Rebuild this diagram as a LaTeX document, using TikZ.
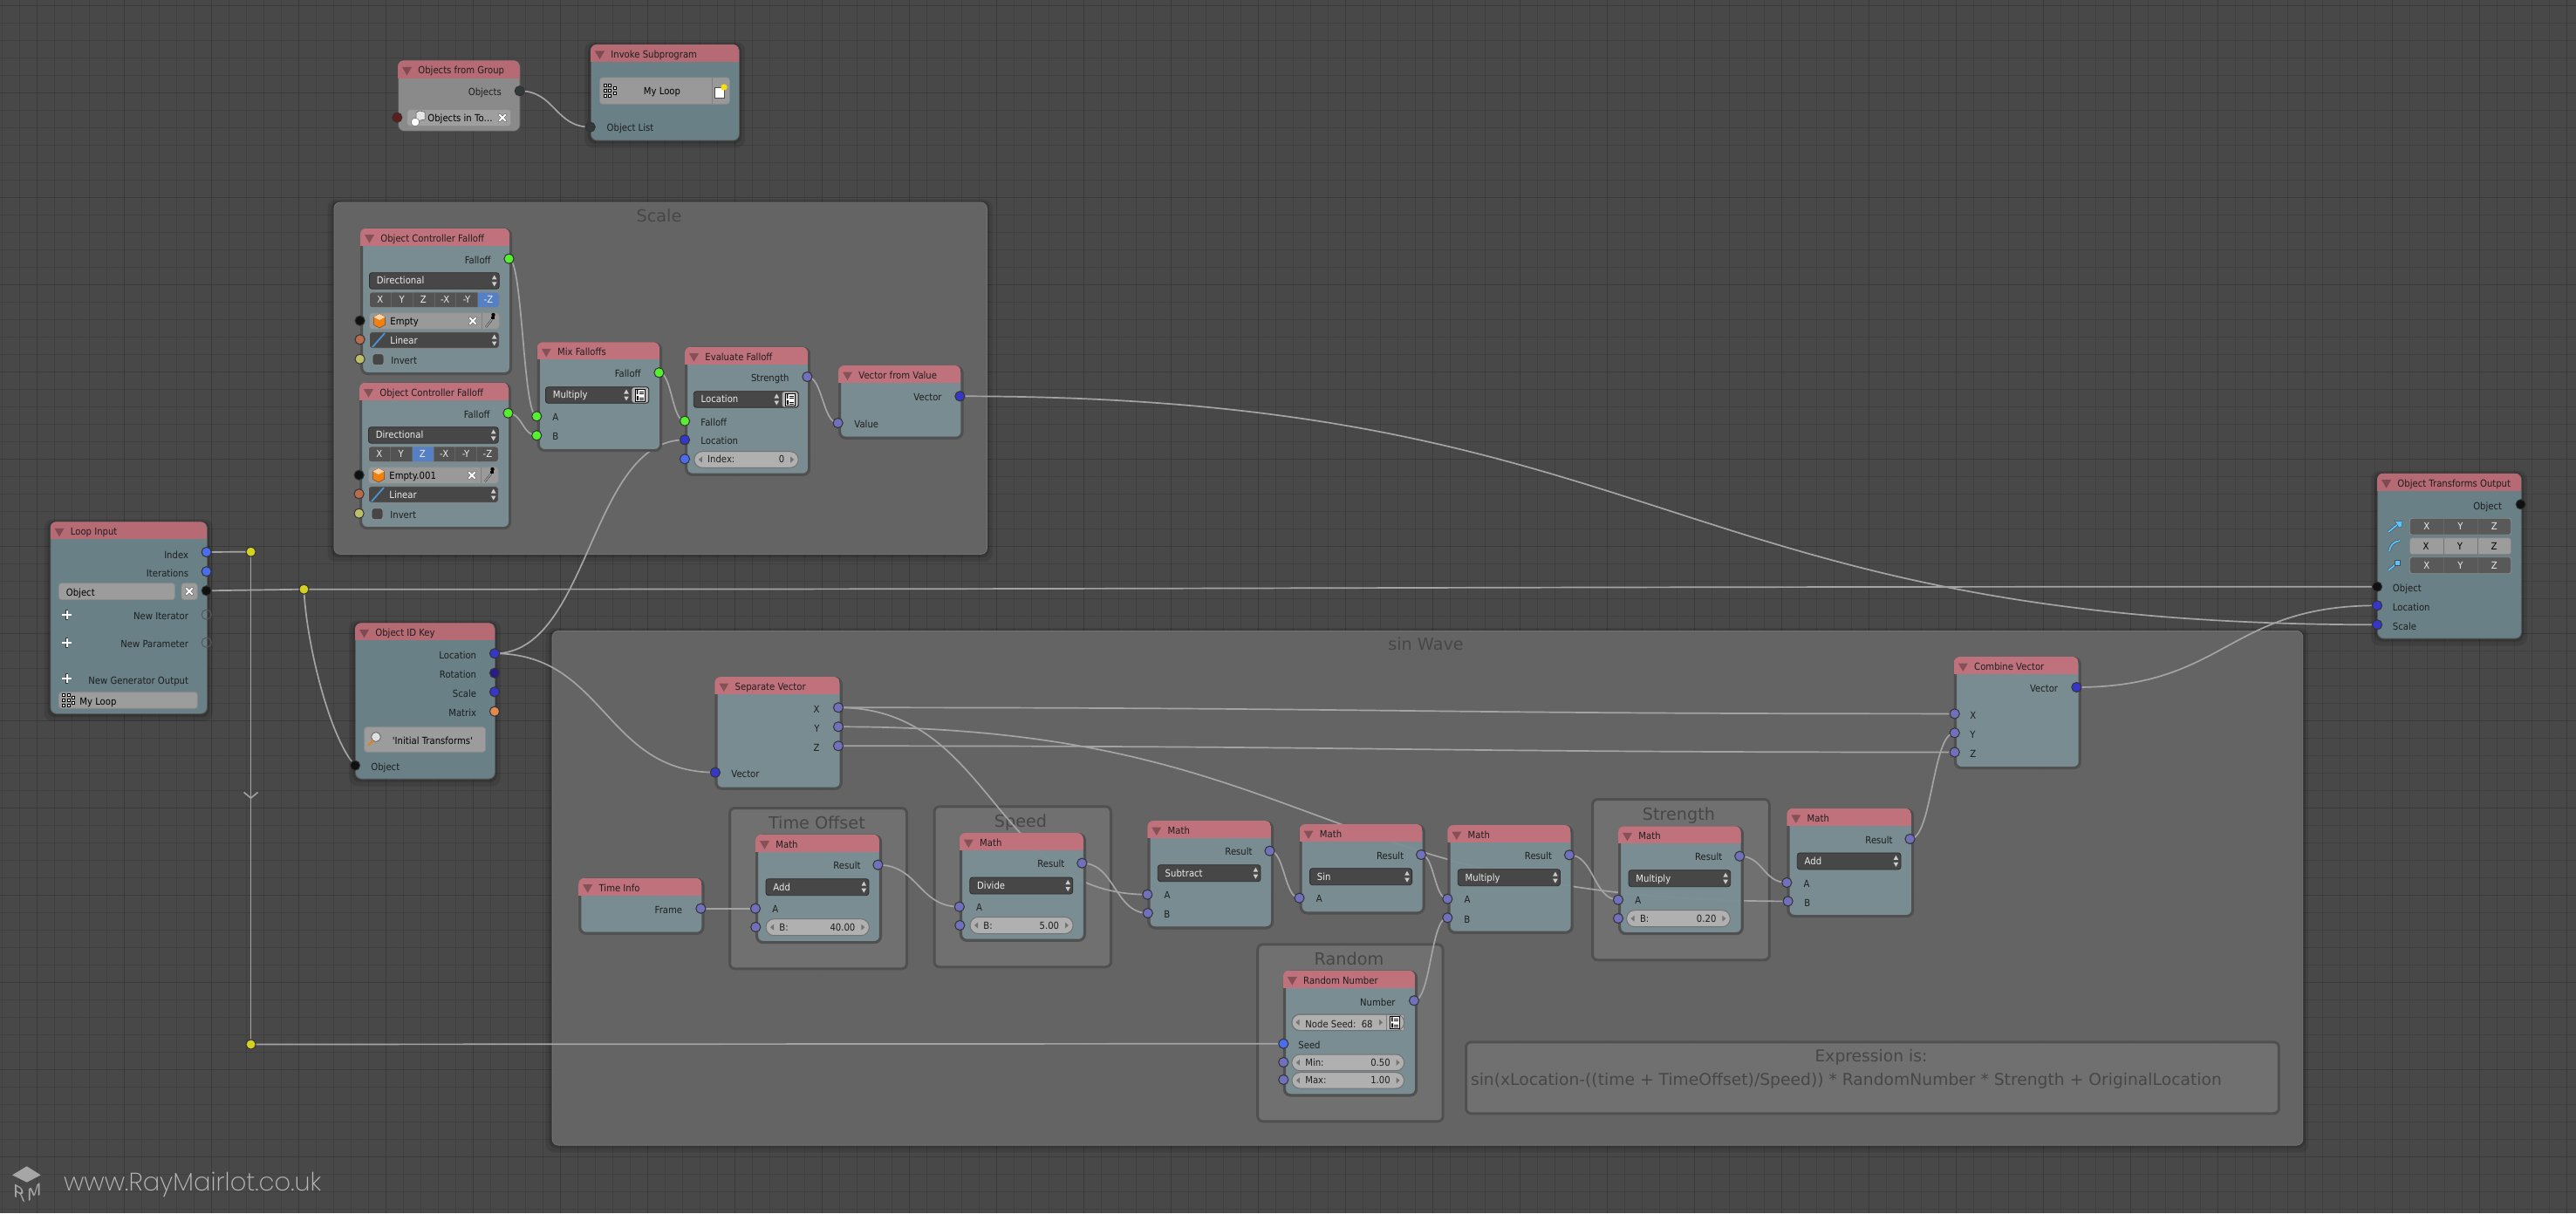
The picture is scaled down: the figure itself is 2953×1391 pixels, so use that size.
\documentclass[tikz,border=0pt]{standalone}
\usepackage{fontspec}
\usetikzlibrary{calc,backgrounds}
\newfontfamily\uifont{DejaVu Sans}[FakeStretch=0.9]
\newfontfamily\ttlfont{DejaVu Sans}
\newfontfamily\wmfont{Poppins ExtraLight}
\definecolor{bgc}{HTML}{484848}
\definecolor{gridmin}{HTML}{404040}
\definecolor{gridmaj}{HTML}{3A3A3A}
\definecolor{frA}{HTML}{686868}
\definecolor{frB}{HTML}{717171}
\definecolor{frEdge}{HTML}{505050}
\definecolor{hdrI}{HTML}{C0727C}
\definecolor{hdrO}{HTML}{B56A74}
\definecolor{bodyI}{HTML}{7A8F94}
\definecolor{bodyO}{HTML}{688086}
\definecolor{bodyG}{HTML}{8A8A8A}
\definecolor{wirec}{HTML}{A4A4A4}
\definecolor{sFall}{HTML}{55F030}
\definecolor{sVec}{HTML}{3636C8}
\definecolor{sVal}{HTML}{7070BC}
\definecolor{sInt}{HTML}{4A6CF0}
\definecolor{sObj}{HTML}{101010}
\definecolor{sMat}{HTML}{E48A4E}
\definecolor{sInterp}{HTML}{B86C4C}
\definecolor{sBool}{HTML}{BDBD6A}
\definecolor{sRer}{HTML}{D4D120}
\definecolor{sRot}{HTML}{2A1C88}
\definecolor{sDark}{HTML}{33393B}
\definecolor{sObjList}{HTML}{5E1C1C}
\definecolor{ddc}{HTML}{474747}
\definecolor{txtDark}{HTML}{1E1E1E}
\definecolor{frTxt}{HTML}{474747}
\definecolor{activeB}{HTML}{5680C4}
\pgfdeclarelayer{frames}
\pgfdeclarelayer{wires}
\pgfsetlayers{frames,wires,main}
\tikzset{
  sock/.style={circle,draw=black!80,line width=.5pt,minimum size=5.6pt,inner sep=0pt},
  wire/.style={draw=wirec,line width=.85pt},
  lb/.style={font=\uifont\fontsize{5.6}{6.7}\selectfont,text=txtDark,inner sep=0pt},
  lbR/.style={lb,anchor=base east},
  lbL/.style={lb,anchor=base west},
  lbW/.style={lbL,text=white!92!black},
  lbC/.style={lb,anchor=base,text=white!92!black},
  lbK/.style={lb,anchor=base,text=txtDark},
  lbT/.style={lb,anchor=base west,text=txtDark},
  ftitle/.style={font=\ttlfont\fontsize{9.6}{12}\selectfont,text=frTxt,inner sep=0pt,anchor=base},
  fexpr/.style={font=\ttlfont\fontsize{9.36}{11}\selectfont,text=frTxt,inner sep=0pt},
  boxI/.style={draw=frEdge,line width=1.6pt,fill=bodyI,fill opacity=.95,rounded corners=3.5pt,inner sep=0pt},
  boxO/.style={draw=black!65,line width=.4pt,fill=bodyO,rounded corners=3.5pt,inner sep=0pt},
  boxG/.style={boxO,fill=bodyG},
}
\newcount\tcnt
\newcommand\txt[3]{\global\advance\tcnt by 1 \node[#1] (t\the\tcnt) at (#2) {#3};}
\newcommand\shd[4]{%
  \fill[black,opacity=.10,rounded corners=5pt] (#1-7,#2-3) rectangle (#3+7,#4+9);
  \fill[black,opacity=.14,rounded corners=4pt] (#1-3,#2-1) rectangle (#3+3,#4+4);}
\newcommand\bnodeG[9]{%
  \pgfmathsetmacro\nw{((#6)-(#4))*.5}\pgfmathsetmacro\nh{((#7)-(#5))*.5}%
  \node[#1,anchor=north west,minimum width=\nw pt,minimum height=\nh pt] (#3) at (#4,#5) {};
  \begin{scope}
    \clip[rounded corners=3.5pt] (#4,#5) rectangle (#6,#7);
    \fill[#2] (#4,#5) rectangle (#6,#8);
  \end{scope}
  \fill[#2!70!black] (#4+5,#5+7.5) -- (#4+16,#5+7.5) -- (#4+10.5,#5+17) -- cycle;
  \txt{lbT}{#4+23,#5+15.5}{#9}}
\newcommand\bnodeI[6]{\bnodeG{boxI}{hdrI}{#1}{#2}{#3}{#4}{#5}{#3+20}{#6}}
\newcommand\bnodeO[6]{\shd{#2}{#3}{#4}{#5}\bnodeG{boxO}{hdrO}{#1}{#2}{#3}{#4}{#5}{#3+20}{#6}}
\newcommand\sk[4]{\node[sock,fill=#4] (#1) at (#2,#3) {};}
% widgets
\newcommand\updown[2]{%
  \pgfmathsetmacro\ux{#1}\pgfmathsetmacro\uy{#2}%
  \fill[white!80!black] (\ux-2.8,\uy-1.5) -- (\ux+2.8,\uy-1.5) -- (\ux,\uy-6.5) -- cycle;
  \fill[white!80!black] (\ux-2.8,\uy+1.5) -- (\ux+2.8,\uy+1.5) -- (\ux,\uy+6.5) -- cycle;}
\newcommand\ilist[2]{%
  \pgfmathsetmacro\lx{#1}\pgfmathsetmacro\ly{#2}%
  \fill[white,draw=black,line width=.3pt] (\lx-5.5,\ly-7) rectangle (\lx+5.5,\ly+7);
  \draw[black,line width=.45pt] (\lx-1,\ly-4) -- (\lx+4,\ly-4) (\lx-1,\ly-2) -- (\lx+4,\ly-2) (\lx-1,\ly+3) -- (\lx+4,\ly+3) (\lx-1,\ly+5) -- (\lx+4,\ly+5);
  \fill[black] (\lx-4,\ly-6) rectangle (\lx-2.5,\ly-1) (\lx-4,\ly+1) rectangle (\lx-2,\ly+6);}
\newcommand\dd[5]{% x1 y1 x2 y2 text
  \fill[ddc,draw=black!45!frEdge,line width=.4pt,rounded corners=1.5pt] (#1,#2) rectangle (#3,#4);
  \txt{lbW}{#1+8,#4-5.5}{#5}
  \updown{#3-5.6}{((#2)+(#4))/2}}
\newcommand\ddList[6]{% x1 y1 x2 y2 text iconleft
  \fill[ddc,rounded corners=1.5pt] (#1,#2) rectangle (#3,#4);
  \txt{lbW}{#1+8,#4-5.5}{#5}
  \updown{#6-6}{((#2)+(#4))/2}
  \draw[draw=black!40!gray,line width=.4pt,fill=gray!60,rounded corners=1.5pt] (#6,#2) rectangle (#3,#4);
  \ilist{((#6)+(#3))/2}{((#2)+(#4))/2}
  \draw[black!45!frEdge,line width=.4pt,rounded corners=1.5pt] (#1,#2) rectangle (#3,#4);}
\newcommand\numf[6]{% x1 y1 x2 y2 label value
  \pgfmathsetmacro\nc{((#2)+(#4))/2}%
  \fill[gray!62!white,draw=black!55,line width=.5pt,rounded corners=4.6pt] (#1,#2) rectangle (#3,#4);
  \fill[black!55] (#1+5,\nc) -- (#1+9,\nc-3.5) -- (#1+9,\nc+3.5) -- cycle;
  \fill[black!55] (#3-5,\nc) -- (#3-9,\nc-3.5) -- (#3-9,\nc+3.5) -- cycle;
  \txt{lbL}{#1+15,#4-5.5}{#5}
  \txt{lbR}{#3-15.5,#4-5.5}{#6}}
\newcommand\grayf[5][gray!80!white]{%
  \fill[#1,draw=black!45,line width=.4pt,rounded corners=1.6pt] (#2,#3) rectangle (#4,#5);}
\newcommand\ix[2]{%
  \draw[black!60,line width=1.5pt,line cap=round] (#1-3.5,#2-3.5) -- (#1+3.5,#2+3.5) (#1-3.5,#2+3.5) -- (#1+3.5,#2-3.5);
  \draw[white,line width=.9pt,line cap=round] (#1-3.5,#2-3.5) -- (#1+3.5,#2+3.5) (#1-3.5,#2+3.5) -- (#1+3.5,#2-3.5);}
\newcommand\icube[2]{%
  \fill[orange!80!brown,draw=black!70,line width=.25pt] (#1,#2-8) -- (#1+6.5,#2-4.5) -- (#1+6.5,#2+4.5) -- (#1,#2+8) -- (#1-6.5,#2+4.5) -- (#1-6.5,#2-4.5) -- cycle;
  \fill[orange!35!white] (#1,#2-8) -- (#1+6.5,#2-4.5) -- (#1,#2-1) -- (#1-6.5,#2-4.5) -- cycle;}
\newcommand\ipip[2]{%
  \draw[black,line width=.9pt] (#1-5,#2+7) -- (#1+3,#2-3);
  \draw[white!85!black,line width=.4pt] (#1-5,#2+7) -- (#1+3,#2-3);
  \fill[black] (#1+1,#2-5) rectangle (#1+5,#2-2);
  \fill[black] (#1+3.5,#2-7) circle (1.1pt);}
\newcommand\iline[2]{%
  \draw[black!60,line width=1.1pt] (#1-7,#2+8) -- (#1+7,#2-8);
  \draw[blue!45!cyan!80!white,line width=.55pt] (#1-7,#2+8) -- (#1+7,#2-8);}
\newcommand\iplus[2]{%
  \draw[black!80,line width=1.3pt] (#1-5.7,#2) -- (#1+5.7,#2) (#1,#2-5.7) -- (#1,#2+5.7);
  \draw[white,line width=.8pt] (#1-5.3,#2) -- (#1+5.3,#2) (#1,#2-5.3) -- (#1,#2+5.3);}
\newcommand\igrp[2]{%
  \foreach \gi/\gj in {-5.5/-6,0/-6,5.5/-3,-5.5/0,0/0,5.5/3,-5.5/6,0/6}{
    \fill[white,draw=black,line width=.3pt] (#1+\gi-1.7,#2+\gj-1.7) rectangle (#1+\gi+1.7,#2+\gj+1.7);}}
% toggle row
\newcommand\bits[8]{% x1 y1 x2 y2 n active fill list
  \fill[#7,rounded corners=1.5pt] (#1,#2) rectangle (#3,#4);
  \pgfmathsetmacro\bw{((#3)-(#1))/#5}
  \ifnum#6>0
    \begin{scope}\clip[rounded corners=1.5pt] (#1,#2) rectangle (#3,#4);
      \fill[activeB] ({#1+(#6-1)*\bw},#2) rectangle ({#1+#6*\bw},#4);\end{scope}
  \fi
  \foreach[count=\bc] \bt in {#8}{
    \pgfmathsetmacro\bx{#1+(\bc-.5)*\bw}
    \txt{lbC}{\bx,#4-5.5}{\bt}
    \ifnum\bc<#5 \pgfmathsetmacro\by{#1+\bc*\bw}\draw[black!60,line width=.25pt] (\by,#2) -- (\by,#4);\fi
  }
  \draw[black!45,line width=.4pt,rounded corners=1.5pt] (#1,#2) rectangle (#3,#4);}
\newcommand\ocf[5]{% name dx dy objtext active
  \bnodeI{#1}{413+#2}{261.7+#3}{584+#2}{427+#3}{Object Controller Falloff}
  \sk{#1fo}{583.5+#2}{296.7+#3}{sFall}
  \txt{lbR}{563+#2,302+#3}{Falloff}
  \dd{423.4+#2}{312.7+#3}{572.3+#2}{331.2+#3}{Directional}
  \bits{423.4+#2}{335+#3}{572.3+#2}{352.7+#3}{6}{#5}{black!35!gray}{X,Y,Z,-X,-Y,-Z}
  \grayf{423.4+#2}{358.7+#3}{572.3+#2}{377.3+#3}
  \draw[black!50,line width=.4pt] (552.5+#2,358.7+#3) -- (552.5+#2,377.3+#3);
  \icube{435+#2}{368+#3}
  \txt{lbL,text=black}{447+#2,372.5+#3}{#4}
  \ix{542+#2}{368+#3}
  \ipip{562+#2}{368+#3}
  \fill[ddc,draw=black!45,line width=.4pt,rounded corners=1.5pt] (423.4+#2,380.7+#3) rectangle (572.3+#2,399.3+#3);
  \iline{434+#2}{390+#3}
  \txt{lbW}{447+#2,394.5+#3}{Linear}
  \updown{566.7+#2}{390+#3}
  \fill[black!45!gray,draw=black!40,line width=.3pt,rounded corners=1.5pt] (427+#2,405.7+#3) rectangle (440+#2,418.7+#3);
  \txt{lbL}{448+#2,417.5+#3}{Invert}
  \sk{#1ob}{412.6+#2}{367.7+#3}{sObj}
  \sk{#1in}{412.6+#2}{389.3+#3}{sInterp}
  \sk{#1bo}{412.6+#2}{411.7+#3}{sBool}
}
\newcommand\wireS[2]{\draw[wire] let \p1=(#1.center),\p2=(#2.center),\n1={abs(\x2-\x1)*0.5} in (\p1) .. controls ($(\p1)+(\n1,0)$) and ($(\p2)-(\n1,0)$) .. (\p2);}
\newcommand\mathbox[9]{% name x1 y1 x2 y2 result-y dd-y text a-y
  \bnodeI{#1}{#2}{#3}{#4}{#5}{Math}
  \sk{#1r}{#4-1.5}{#6}{sVal}
  \txt{lbR}{#4-21,#6+5}{Result}
  \dd{#2+12}{#7}{#4-12}{#7+19}{#8}
  \sk{#1a}{#2}{#9}{sVal}
  \txt{lbL}{#2+19,#9+5}{A}}
\begin{document}
\begin{tikzpicture}[x=.5pt,y=-.5pt]
\useasboundingbox (0,0) rectangle (2953,1391);
\begin{pgfonlayer}{frames}
\fill[bgc] (0,0) rectangle (2953,1391);
\foreach \i in {0,...,147}{\draw[gridmin,line width=.5pt] ({2.5+20*\i},0) -- ({2.5+20*\i},1391);}
\foreach \i in {0,...,69}{\draw[gridmin,line width=.5pt] (0,{6.3+20*\i}) -- (2953,{6.3+20*\i});}
\foreach \i in {0,...,29}{\draw[gridmaj,line width=.55pt] ({42.5+100*\i},0) -- ({42.5+100*\i},1391);}
\foreach \yy in {6.3,106.3,226.3,326.3,426.3,526.3,626.3,726.3,826.3,926.3,1026.3,1126.3,1226.3,1326.3}{\draw[gridmaj,line width=.55pt] (0,\yy) -- (2953,\yy);}
% frames
\shd{382.5}{231.7}{1131}{635}
\node[rounded corners=3.5pt,fill=frA,fill opacity=.93,draw=black!55,line width=.4pt,anchor=north west,minimum width=374.25pt,minimum height=201.65pt,inner sep=0pt] (frScale) at (382.5,231.7) {};
\txt{ftitle}{755.5,254.5}{Scale}
\shd{632.7}{723}{2639.4}{1312.7}
\node[rounded corners=3.5pt,fill=frA,fill opacity=.93,draw=black!55,line width=.4pt,anchor=north west,minimum width=1003.35pt,minimum height=294.85pt,inner sep=0pt] (frWave) at (632.7,723) {};
\txt{ftitle}{1634.5,745.5}{sin Wave}
\tikzset{fr2/.style={rounded corners=3pt,fill=frB,fill opacity=.93,draw=frEdge,line width=1.5pt,anchor=north west,inner sep=0pt}}
\node[fr2,minimum width=101.5pt,minimum height=92.15pt] (frOffset) at (835,925) {};
\txt{ftitle}{936.4,950.5}{Time Offset}
\node[fr2,minimum width=101.25pt,minimum height=92pt] (frSpeed) at (1069.5,923.3) {};
\txt{ftitle}{1170,948.5}{Speed}
\node[fr2,minimum width=101.4pt,minimum height=92.15pt] (frStrength) at (1824,915) {};
\txt{ftitle}{1924.4,940.5}{Strength}
\node[fr2,minimum width=106.2pt,minimum height=101.5pt] (frRandom) at (1440.2,1081.3) {};
\txt{ftitle}{1546.4,1106.5}{Random}
\node[fr2,minimum width=465.9pt,minimum height=41pt] (frExpr) at (1679,1193.3) {};
\txt{fexpr,anchor=base}{2145,1217.5}{Expression is:}
\txt{fexpr,anchor=base west}{1685.6,1244}{sin(xLocation-((time + TimeOffset)/Speed)) * RandomNumber * Strength + OriginalLocation}
\end{pgfonlayer}

% --- top nodes
\bnodeG{boxG}{hdrO}{ofg}{456}{69.3}{595.7}{150}{89.7}{Objects from Group}
\sk{ofgO}{595.7}{104.3}{sDark}
\txt{lbR}{575.3,110}{Objects}
\sk{ofgG}{455.3}{134.7}{sObjList}
\grayf[gray!75!white]{466.7}{125.7}{585.7}{144.7}
\fill[white!90!black,draw=black!70,line width=.25pt] (477,129) -- (481,127) -- (487,128.5) -- (487,137) -- (477,139) -- cycle;
\fill[white,draw=black!60,line width=.25pt] (476,140) circle (2.4pt);
\txt{lbL,text=black}{490,140}{Objects in To…}
\ix{576}{135}

\bnodeO{inv}{677}{51}{847}{160.7}{Invoke Subprogram}
\grayf[gray!80!white]{687.7}{89}{836.3}{119.3}
\draw[black!50,line width=.4pt] (816.3,89) -- (816.3,119.3);
\igrp{699}{104}
\txt{lbK,text=black}{759,109}{My Loop}
\fill[white,draw=black!70,line width=.25pt] (819,100) rectangle (830,112);
\fill[yellow!80!orange] (830,100) circle (1.8pt);
\sk{invL}{676.7}{145.7}{sDark}
\txt{lbL}{695.3,151}{Object List}

% --- Scale frame nodes
\ocf{fa}{0}{0}{Empty}{6}
\ocf{fb}{-1}{177}{Empty.001}{3}

\bnodeI{mix}{615.7}{392.3}{756}{515}{Mix Falloffs}
\sk{mixO}{755.5}{427.3}{sFall}
\txt{lbR}{735,432.5}{Falloff}
\ddList{625.4}{443.7}{743.8}{462.3}{Multiply}{724}
\sk{mixA}{615.2}{477.3}{sFall}
\txt{lbL}{633,482.5}{A}
\sk{mixB}{615.2}{499.3}{sFall}
\txt{lbL}{633,504.5}{B}

\bnodeI{ev}{785}{397.7}{926}{542.7}{Evaluate Falloff}
\sk{evS}{925.4}{432}{sVal}
\txt{lbR}{905,437.5}{Strength}
\ddList{795.3}{448.7}{915.2}{467.3}{Location}{896.3}
\sk{evF}{785}{482.7}{sFall}
\txt{lbL}{803,488}{Falloff}
\sk{evL}{785}{504.3}{sVec}
\txt{lbL}{803,509.5}{Location}
\sk{evI}{785}{526.3}{sInt}
\numf{795.8}{517.7}{915.2}{536.3}{Index:}{0}

\bnodeI{vfv}{961}{419}{1101.4}{500.7}{Vector from Value}
\sk{vfvO}{1100.4}{454.3}{sVec}
\txt{lbR}{1080,459.5}{Vector}
\sk{vfvV}{960.6}{485}{sVal}
\txt{lbL}{979,490.5}{Value}

% --- Loop input
\bnodeO{loop}{57.5}{598.3}{237}{818}{Loop Input}
\sk{loI}{236.7}{633}{sInt}
\txt{lbR}{216.4,640}{Index}
\sk{loT}{236.7}{655.3}{sInt}
\txt{lbR}{216.4,661}{Iterations}
\grayf[gray!78!white]{67.5}{668.7}{200.3}{687.7}
\txt{lbL,text=black}{75.5,683}{Object}
\grayf[gray!78!white]{208}{668.7}{226.3}{687.7}
\ix{217}{678}
\sk{loO}{236.7}{677.3}{sObj}
\iplus{76.7}{705}
\txt{lbR}{216.4,710}{New Iterator}
\node[sock,fill=none,draw=black!65] (loN1) at (236.7,704.7) {};
\iplus{76.7}{737}
\txt{lbR}{216.4,742}{New Parameter}
\node[sock,fill=none,draw=black!65] (loN2) at (236.7,736.7) {};
\iplus{76.7}{778}
\txt{lbR}{216.4,784}{New Generator Output}
\grayf[gray!78!white]{67.5}{793.7}{226.3}{812.3}
\igrp{78.5}{803}
\txt{lbL,text=black}{91,808}{My Loop}

\sk{rr1}{287.6}{632.7}{sRer}
\sk{rr2}{348.4}{675.7}{sRer}
\sk{rr3}{287.6}{1197.5}{sRer}

% --- Object ID key
\bnodeO{oid}{407}{714.3}{567}{892.7}{Object ID Key}
\sk{oidL}{567}{749.3}{sVec}
\txt{lbR}{546.5,755}{Location}
\sk{oidR}{567}{771.7}{sRot}
\txt{lbR}{546.5,777}{Rotation}
\sk{oidS}{567}{793.3}{sVec}
\txt{lbR}{546.5,799}{Scale}
\sk{oidM}{567}{815.7}{sMat}
\txt{lbR}{546.5,821}{Matrix}
\grayf[gray!78!white]{417.7}{833.7}{556.6}{862.3}
\fill[white!75!gray,draw=black!70,line width=.3pt] (431,845) circle (2.7pt);
\draw[orange!60!brown,line width=1pt] (427.5,849) -- (422,855);
\txt{lbL,text=black}{449.5,853}{'Initial Transforms'}
\sk{oidO}{407}{877.7}{sObj}
\txt{lbL}{425,883}{Object}

% --- Transforms output
\bnodeO{oto}{2725}{542.7}{2890}{731.7}{Object Transforms Output}
\sk{otoO}{2889.7}{578.3}{sObj}
\txt{lbR}{2868.5,584}{Object}
\bits{2762.3}{594.3}{2878.7}{613.3}{3}{0}{black!30!gray}{X,Y,Z}
\bits{2762.3}{638.7}{2878.7}{657.7}{3}{0}{black!30!gray}{X,Y,Z}
\fill[gray!78!white,rounded corners=1.5pt] (2762.3,616.7) rectangle (2878.7,635.7);
\draw[black!50,line width=.4pt,rounded corners=1.5pt] (2762.3,616.7) rectangle (2878.7,635.7);
\draw[black!55,line width=.3pt] (2801,616.7) -- (2801,635.7) (2840,616.7) -- (2840,635.7);
\txt{lbK,text=black}{2781,630.5}{X}
\txt{lbK,text=black}{2820,630.5}{Y}
\txt{lbK,text=black}{2859,630.5}{Z}
\draw[black!70,line width=1.5pt] (2738,610) -- (2750,600);
\draw[blue!35!cyan!65!white,line width=.9pt] (2738,610) -- (2750,600);
\fill[blue!35!cyan!65!white,draw=black!70,line width=.2pt] (2745,597) -- (2750,598) -- (2754,597) -- (2753,604) -- (2750,605) -- cycle;
\draw[black!70,line width=1.5pt] (2739,632) .. controls (2740,625) and (2744,621) .. (2751,620);
\draw[blue!35!cyan!65!white,line width=.9pt] (2739,632) .. controls (2740,625) and (2744,621) .. (2751,620);
\draw[black!70,line width=1.5pt] (2738,654) -- (2750,644);
\draw[blue!35!cyan!65!white,line width=.9pt] (2738,654) -- (2750,644);
\fill[blue!35!cyan!65!white,draw=black!70,line width=.2pt] (2745,642) rectangle (2751,648);
\sk{otoI}{2725}{672.7}{sObj}
\txt{lbL}{2742.5,678}{Object}
\sk{otoL}{2725}{694.3}{sVec}
\txt{lbL}{2742.5,700}{Location}
\sk{otoS}{2725}{716.3}{sVec}
\txt{lbL}{2742.5,722}{Scale}

% --- Sin wave nodes
\bnodeI{sep}{819.3}{776}{962.7}{902.7}{Separate Vector}
\sk{sepX}{961}{811.3}{sVal}
\txt{lbR}{940,817}{X}
\sk{sepY}{961}{833.3}{sVal}
\txt{lbR}{940,839}{Y}
\sk{sepZ}{961}{855.3}{sVal}
\txt{lbR}{940,861}{Z}
\sk{sepV}{820}{885.7}{sVec}
\txt{lbL}{838,891}{Vector}

\bnodeI{ti}{663.2}{1006.7}{804.3}{1068.7}{Time Info}
\sk{tiF}{803.4}{1041.7}{sVal}
\txt{lbR}{782.5,1047}{Frame}

\mathbox{ma}{866}{956.7}{1007.9}{1079}{991.7}{1007.7}{Add}{1041.7}
\sk{mab}{866.3}{1063}{sVal}
\numf{878}{1053.7}{996.3}{1072.7}{B:}{40.00}

\mathbox{mb}{1099.8}{955}{1241.8}{1076.7}{989.7}{1006}{Divide}{1039.7}
\sk{mbb}{1100.3}{1061}{sVal}
\numf{1112}{1051.5}{1230}{1070.5}{B:}{5.00}

\mathbox{mc}{1315.3}{941}{1457}{1062.3}{975.7}{991.7}{Subtract}{1025.7}
\sk{mcb}{1315.8}{1047}{sVal}
\txt{lbL}{1334,1052.5}{B}

\mathbox{md}{1489.5}{945}{1630.6}{1045.3}{980}{995.7}{Sin}{1029.7}

\mathbox{me}{1659.3}{946}{1800.5}{1067.7}{980.3}{996.7}{Multiply}{1030.7}
\sk{meb}{1659.3}{1052.3}{sVal}
\txt{lbL}{1678,1058}{B}

\mathbox{mf}{1855}{947.3}{1995.7}{1069}{981.7}{997.7}{Multiply}{1031.7}
\sk{mfb}{1855}{1053}{sVal}
\numf{1864.6}{1043.7}{1983.3}{1062.7}{B:}{0.20}

\mathbox{mg}{2048.3}{926.8}{2191}{1049}{962}{977.9}{Add}{1012}
\sk{mgb}{2049.6}{1033.4}{sVal}
\txt{lbL}{2068,1039}{B}

\bnodeI{cv}{2239.8}{753}{2382.7}{879}{Combine Vector}
\sk{cvO}{2380.4}{788}{sVec}
\txt{lbR}{2359.5,793.5}{Vector}
\sk{cvX}{2240.7}{818.4}{sVal}
\txt{lbL}{2258,824}{X}
\sk{cvY}{2240.7}{840.3}{sVal}
\txt{lbL}{2258,846}{Y}
\sk{cvZ}{2240.7}{862.5}{sVal}
\txt{lbL}{2258,868}{Z}

\bnodeI{rn}{1470.8}{1112.7}{1622}{1254.3}{Random Number}
\sk{rnO}{1621}{1147.3}{sVal}
\txt{lbR}{1600,1153}{Number}
\fill[gray!62!white,draw=black!55,line width=.5pt,rounded corners=4.6pt] (1480.9,1163) rectangle (1609.6,1181.7);
\fill[black!55] (1485.5,1172.3) -- (1489.5,1168.8) -- (1489.5,1175.8) -- cycle;
\fill[black!55] (1585,1172.3) -- (1581,1168.8) -- (1581,1175.8) -- cycle;
\txt{lbL}{1496,1178}{Node Seed:}
\txt{lbR}{1574,1178}{68}
\fill[gray!60,draw=black!50,line width=.3pt] (1589.5,1163) rectangle (1609.6,1181.7);
\ilist{1599}{1172.3}
\draw[black!55,line width=.5pt,rounded corners=4.6pt] (1480.9,1163) rectangle (1609.6,1181.7);
\sk{rnS}{1471.3}{1196.7}{sInt}
\txt{lbL}{1488,1202.5}{Seed}
\sk{rnMin}{1471.3}{1218}{sVal}
\numf{1480.9}{1209}{1609.6}{1227.7}{Min:}{0.50}
\sk{rnMax}{1471.3}{1238}{sVal}
\numf{1480.9}{1229.7}{1609.6}{1248}{Max:}{1.00}

% --- watermark
\fill[gray!70!white] (30.7,1337.3) -- (46.7,1347.3) -- (30.7,1355.7) -- (14,1347.3) -- cycle;
\begin{scope}[cm={1,-.55,0,1,(22,1368)}]
\txt{transform shape,font=\ttlfont\fontsize{10}{12}\selectfont,text=gray!70!white,inner sep=0pt}{0,0}{R}
\end{scope}
\begin{scope}[cm={1,.55,0,1,(40,1367)}]
\txt{transform shape,font=\ttlfont\fontsize{9.5}{12}\selectfont,text=gray!70!white,inner sep=0pt}{0,0}{M}
\end{scope}
\txt{anchor=base west,font=\wmfont\fontsize{14.45}{16}\selectfont,text=gray!55!white,inner sep=0pt}{72.7,1365.7}{www.RayMairlot.co.uk}

% --- wires
\begin{pgfonlayer}{wires}
\wireS{ofgO}{invL}
\wireS{fafo}{mixA}
\wireS{fbfo}{mixB}
\wireS{mixO}{evF}
\wireS{evS}{vfvV}
\wireS{oidL}{evL}
\wireS{oidL}{sepV}
\wireS{vfvO}{otoS}
\wireS{cvO}{otoL}
\draw[wire] (loI.center) -- (rr1.center);
\draw[wire] (rr1.center) -- (rr3.center);
\draw[wire] (rr3.center) -- (rnS.center);
\draw[wire] (loO.center) -- (rr2.center);
\wireS{rr2}{otoI}
\draw[wire] (rr2.center) .. controls +(3,65) and +(-28,-30) .. (oidO.center);
\coordinate (chev) at (287.6,915);
\draw[wirec,line width=.8pt] ($(chev)+(-8,-6.5)$) -- (chev) -- ($(chev)+(8,-6.5)$);
\wireS{tiF}{maa}
\wireS{mar}{mba}
\wireS{mbr}{mcb}
\wireS{sepX}{mca}
\wireS{mcr}{mda}
\wireS{mdr}{mea}
\wireS{rnO}{meb}
\wireS{mer}{mfa}
\wireS{mfr}{mga}
\wireS{sepY}{mgb}
\wireS{mgr}{cvY}
\wireS{sepX}{cvX}
\wireS{sepZ}{cvZ}
\end{pgfonlayer}
\end{tikzpicture}
\end{document}
